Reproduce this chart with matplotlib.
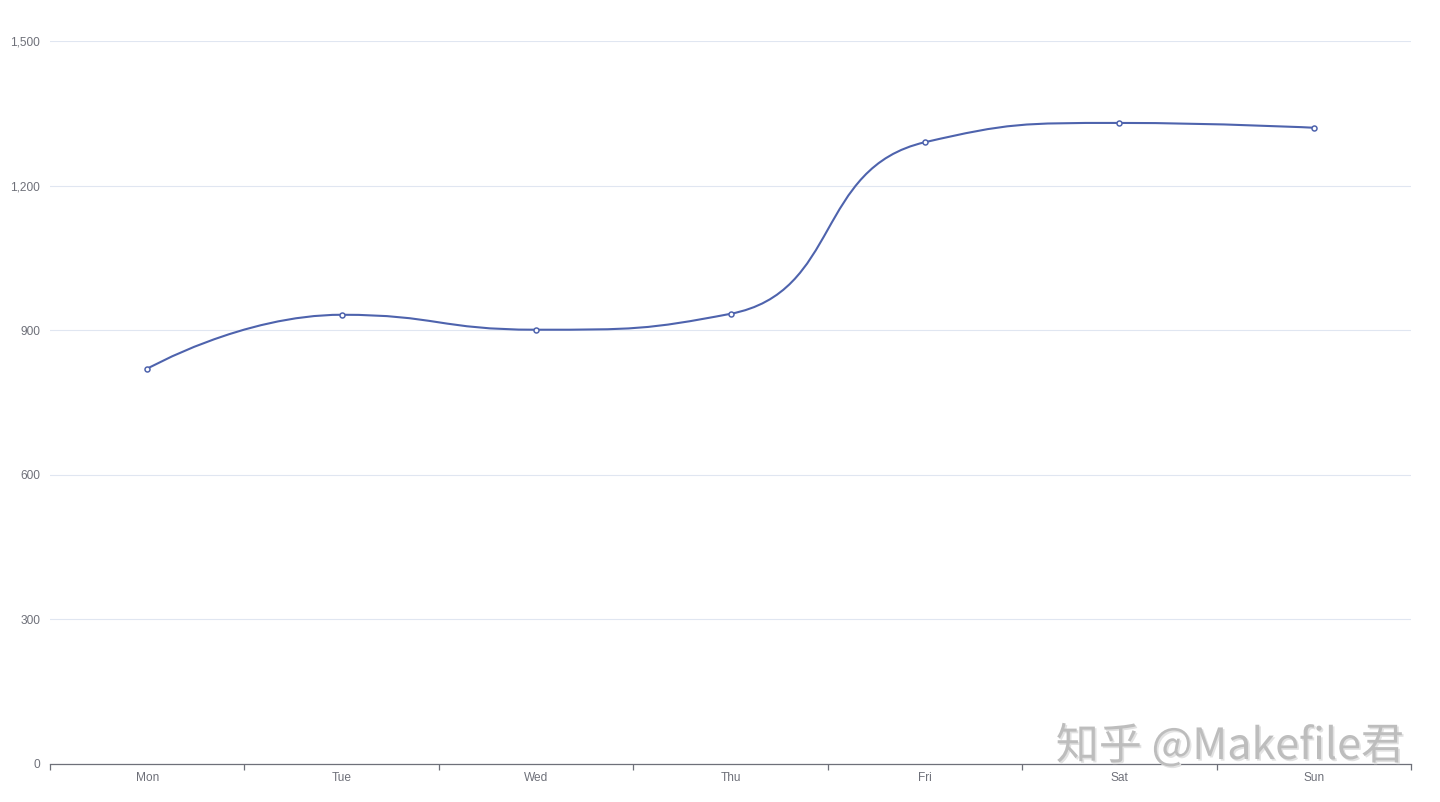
import numpy as np
import matplotlib
matplotlib.use("Agg")
from matplotlib import pyplot as plt
from matplotlib.path import Path
from matplotlib.patches import PathPatch
from matplotlib.ticker import FuncFormatter, MultipleLocator
import matplotlib.patheffects as pe

days = ["Mon", "Tue", "Wed", "Thu", "Fri", "Sat", "Sun"]
values = [820, 932, 901, 934, 1290, 1330, 1320]
y_max = 1500
y_step = 300
watermark = "知乎 @Makefile君"

LINE = "#4e63ad"
AXIS = "#6E7079"
GRID = "#E0E6F1"

plt.rcParams["font.family"] = ["Liberation Sans", "Noto Sans CJK SC", "DejaVu Sans"]

W, H = 1440, 802
fig = plt.figure(figsize=(W / 100, H / 100), dpi=100)
left, right, top, bottom = 50, 1411, 41, 764
ax = fig.add_axes([left / W, (H - bottom) / H, (right - left) / W, (bottom - top) / H])
ax.set_xlim(-0.5, len(days) - 0.5)
ax.set_ylim(0, y_max)


def smooth_path(xs, ys, smooth=0.5):
    """echarts-like bezier smoothing, done in pixel space"""
    # scale to pixel units so the curve shape matches the screen
    sx = (right - left) / len(days)
    sy = (bottom - top) / y_max
    px = np.asarray(xs, float) * sx
    py = np.asarray(ys, float) * sy
    n = len(px)
    verts = [(px[0], py[0])]
    codes = [Path.MOVETO]
    cp0 = (px[0], py[0])
    for i in range(1, n):
        x, y = px[i], py[i]
        prev_x, prev_y = px[i - 1], py[i - 1]
        if i < n - 1:
            nx, ny = px[i + 1], py[i + 1]
            vx, vy = nx - prev_x, ny - prev_y
            d0 = np.hypot(x - prev_x, y - prev_y)
            d1 = np.hypot(nx - x, ny - y)
            ratio = d1 / (d0 + d1)
            n0x = x + vx * smooth * ratio
            n0y = y + vy * smooth * ratio
            # keep control points inside the neighbour range
            n0x = min(max(n0x, min(nx, x)), max(nx, x))
            n0y = min(max(n0y, min(ny, y)), max(ny, y))
            vx, vy = n0x - x, n0y - y
            c1x = x - vx * d0 / d1
            c1y = y - vy * d0 / d1
            c1x = min(max(c1x, min(prev_x, x)), max(prev_x, x))
            c1y = min(max(c1y, min(prev_y, y)), max(prev_y, y))
            vx, vy = x - c1x, y - c1y
            n0x = x + vx * d1 / d0
            n0y = y + vy * d1 / d0
        else:
            c1x, c1y = x, y
            n0x, n0y = x, y
        verts += [cp0, (c1x, c1y), (x, y)]
        codes += [Path.CURVE4] * 3
        cp0 = (n0x, n0y)
    verts = [(vx_ / sx, vy_ / sy) for vx_, vy_ in verts]
    return Path(verts, codes)


xs = np.arange(len(days))
ax.add_patch(PathPatch(smooth_path(xs, values), facecolor="none", edgecolor=LINE,
                       lw=1.5, zorder=3, capstyle="round", joinstyle="round"))
ax.plot(xs, values, linestyle="none", marker="o", markersize=3.6,
        markerfacecolor="white", markeredgecolor=LINE, markeredgewidth=1.1, zorder=4)

# axes styling
ax.yaxis.set_major_locator(MultipleLocator(y_step))
ax.yaxis.set_major_formatter(FuncFormatter(lambda v, _: f"{int(v):,}"))
ax.grid(axis="y", color=GRID, lw=0.8)
ax.set_axisbelow(True)
for side in ["top", "right", "left"]:
    ax.spines[side].set_visible(False)
ax.spines["bottom"].set_color(AXIS)
ax.spines["bottom"].set_linewidth(0.9)
ax.tick_params(axis="y", length=0, pad=7, labelsize=8.6, labelcolor=AXIS)
ax.set_xticks(xs)
ax.set_xticklabels(days)
ax.set_xticks(np.arange(-0.5, len(days)), minor=True)
ax.tick_params(axis="x", which="major", length=0, pad=6, labelsize=8.6, labelcolor=AXIS)
ax.tick_params(axis="x", which="minor", length=4, width=0.9, color=AXIS, direction="out")

# watermark
fig.text(1404 / W, (H - 759) / H, watermark, ha="right", va="baseline",
         fontsize=31, color="#bdbdbd", family=["Noto Sans CJK SC"], weight="light",
         path_effects=[pe.withSimplePatchShadow(offset=(1.2, -1.2), shadow_rgbFace="#e2e2e2", alpha=1)])

fig.savefig("out.png", dpi=100)
